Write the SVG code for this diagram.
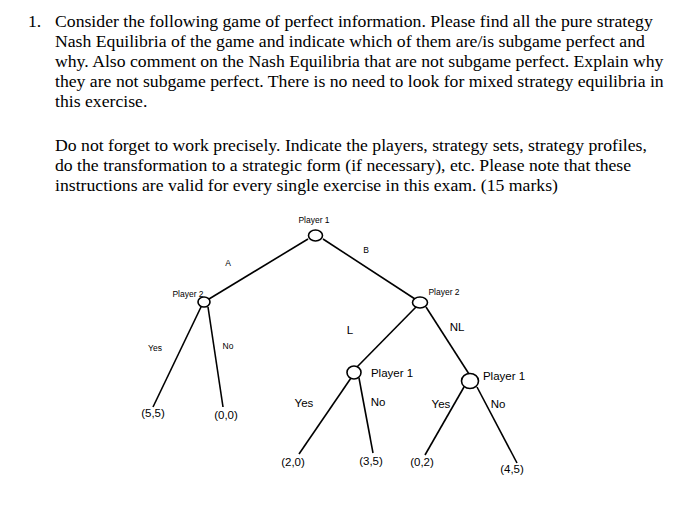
<svg xmlns="http://www.w3.org/2000/svg" width="700" height="512" viewBox="0 0 700 512">
<style>
.p{font-family:"Liberation Serif",serif;font-size:17.7px;fill:#000}
.s{font-family:"Liberation Sans",Arial,sans-serif;fill:#000;text-anchor:middle}
.t{font-size:8.5px}.m{font-size:11.5px}
.e line{stroke:#000;stroke-width:1.6}
.n ellipse{fill:#fff;stroke:#000;stroke-width:1.6}
</style>
<rect width="700" height="512" fill="#fff"/>
<g id="question">
<text class="p" x="28" y="27">1.</text>
<text class="p" x="55" y="27">Consider the following game of perfect information. Please find all the pure strategy</text>
<text class="p" x="55" y="47">Nash Equilibria of the game and indicate which of them are/is subgame perfect and</text>
<text class="p" x="55" y="67">why. Also comment on the Nash Equilibria that are not subgame perfect. Explain why</text>
<text class="p" x="55" y="87">they are not subgame perfect. There is no need to look for mixed strategy equilibria in</text>
<text class="p" x="55" y="107">this exercise.</text>
<text class="p" x="55" y="151">Do not forget to work precisely. Indicate the players, strategy sets, strategy profiles,</text>
<text class="p" x="55" y="171">do the transformation to a strategic form (if necessary), etc. Please note that these</text>
<text class="p" x="55" y="191">instructions are valid for every single exercise in this exam.  (15 marks)</text>
</g>
<g id="connectors" class="e">
<line x1="308" y1="239" x2="209" y2="299"/>
<line x1="323" y1="239" x2="415" y2="299"/>
<line x1="201" y1="307" x2="153" y2="407"/>
<line x1="208" y1="307" x2="223" y2="407"/>
<line x1="416" y1="307" x2="357" y2="367"/>
<line x1="426" y1="307" x2="469" y2="374"/>
<line x1="351" y1="378" x2="299" y2="454"/>
<line x1="359" y1="378" x2="373" y2="453"/>
<line x1="464" y1="387" x2="425" y2="455"/>
<line x1="477" y1="387" x2="517" y2="463"/>
</g>
<g id="root" class="n"><ellipse cx="315.5" cy="235.5" rx="7" ry="5.5"/><text class="s t" x="314" y="223">Player 1</text></g>
<g id="p2left" class="n"><ellipse cx="204" cy="302" rx="6" ry="5"/><text class="s t" x="188" y="297">Player 2</text></g>
<g id="p2right" class="n"><ellipse cx="420" cy="302.5" rx="7.5" ry="5.5"/><text class="s t" x="444" y="295">Player 2</text></g>
<g id="p1L" class="n"><ellipse cx="354" cy="372.5" rx="7" ry="6.5"/><text class="s m" x="392" y="377">Player 1</text></g>
<g id="p1NL" class="n"><ellipse cx="470" cy="381" rx="8.5" ry="7.5"/><text class="s m" x="504" y="380">Player 1</text></g>
<g id="labels">
<text class="s t" x="228" y="266">A</text>
<text class="s t" x="366" y="253">B</text>
<text class="s m" x="350" y="334">L</text>
<text class="s m" x="457" y="331">NL</text>
<text class="s t" x="155" y="351">Yes</text>
<text class="s t" x="228" y="349">No</text>
<text class="s m" x="304" y="407">Yes</text>
<text class="s m" x="378" y="406">No</text>
<text class="s m" x="441" y="408">Yes</text>
<text class="s m" x="498" y="408">No</text>
<text class="s m" x="153" y="417">(5,5)</text>
<text class="s m" x="226" y="419">(0,0)</text>
<text class="s m" x="293" y="466">(2,0)</text>
<text class="s m" x="371" y="465">(3,5)</text>
<text class="s m" x="422" y="466">(0,2)</text>
<text class="s m" x="512" y="473">(4,5)</text>
</g>
</svg>
